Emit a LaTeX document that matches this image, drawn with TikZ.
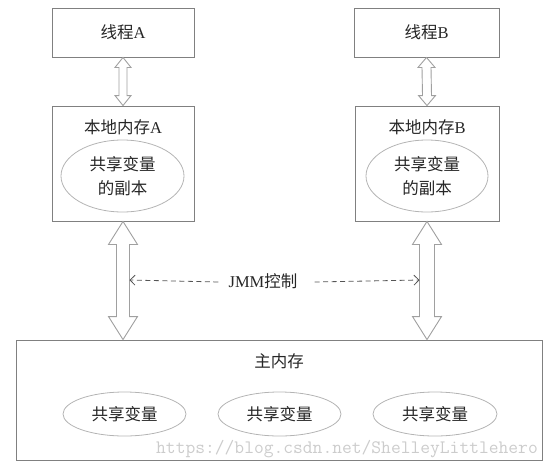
\documentclass[tikz,border=0pt]{standalone}
\usepackage{fontspec}
\setmainfont{Liberation Serif}
\newfontfamily\cjk{Noto Sans CJK SC}
\usetikzlibrary{shapes.geometric,arrows.meta,calc}
\definecolor{boxc}{HTML}{808080}
\definecolor{ellc}{HTML}{B4B4B4}
\definecolor{arrc}{HTML}{A0A0A0}
\definecolor{txtc}{HTML}{262626}
\definecolor{dashc}{HTML}{555555}
\definecolor{wmc}{HTML}{CCCCCC}
\newcommand{\dblarrow}[5]{%
  \draw[blockarrow] (#1) -- ($(#1)+(#3,#5)$) -- ($(#1)+(#4,#5)$) -- ($(#2)+(#4,-#5)$) -- ($(#2)+(#3,-#5)$) -- (#2)
    -- ($(#2)+(-#3,-#5)$) -- ($(#2)+(-#4,-#5)$) -- ($(#1)+(-#4,#5)$) -- ($(#1)+(-#3,#5)$) -- cycle;}
\begin{document}
\begin{tikzpicture}[x=1pt,y=-1pt,
  every node/.style={text=txtc,font=\fontsize{16.5}{24}\selectfont},
  boxnode/.style={draw=boxc,line width=0.9pt,rectangle,inner sep=0pt},
  ellnode/.style={draw=ellc,line width=0.8pt,ellipse,inner sep=0pt,align=center},
  blockarrow/.style={draw=arrc,line width=0.9pt,fill=white,line join=miter},
  jmmarrow/.style={draw=dashc,line width=0.8pt,dash pattern=on 5pt off 3.5pt,-{Straight Barb[length=5pt,width=10pt]}}]
\useasboundingbox (0,0) rectangle (549,469);
% thread boxes
\node[boxnode,minimum width=142pt,minimum height=49pt] (thA) at (123,32.5) {{\cjk 线程}A};
\node[boxnode,minimum width=145pt,minimum height=49pt] (thB) at (426.5,32.5) {{\cjk 线程}B};
% local memories
\node[boxnode,minimum width=142pt,minimum height=115pt] (locA) at (123,163.5) {};
\node (labA) at (123,127) {{\cjk 本地内存}A};
\node[ellnode,minimum width=123pt,minimum height=72pt] (ellA) at (122.5,176) {{\cjk 共享变量}\\{\cjk 的副本}};
\node[boxnode,minimum width=144pt,minimum height=115pt] (locB) at (427,163.5) {};
\node (labB) at (427,127) {{\cjk 本地内存}B};
\node[ellnode,minimum width=122pt,minimum height=72pt] (ellB) at (427,176) {{\cjk 共享变量}\\{\cjk 的副本}};
% main memory
\node[boxnode,minimum width=526pt,minimum height=120pt] (main) at (279,400) {};
\node (labM) at (279,361) {{\cjk 主内存}};
\node[ellnode,minimum width=123pt,minimum height=44pt] (e1) at (124.5,414) {{\cjk 共享变量}};
\node[ellnode,minimum width=123pt,minimum height=44pt] (e2) at (279.5,414) {{\cjk 共享变量}};
\node[ellnode,minimum width=124pt,minimum height=44pt] (e3) at (435,414) {{\cjk 共享变量}};
% watermark
\node[text=wmc,font=\fontsize{19}{20}\ttfamily,anchor=east,inner sep=0pt] (wm) at (538,449) {https://blog.csdn.net/ShelleyLittlehero};
% small arrows
\dblarrow{thA.south}{locA.north}{8}{4}{10}
\dblarrow{thB.south}{locB.north}{8.5}{4.5}{10}
% big arrows
\coordinate (mA) at (locA.south |- main.north);
\coordinate (mB) at (locB.south |- main.north);
\dblarrow{locA.south}{mA}{14.5}{6.5}{23}
\dblarrow{locB.south}{mB}{14.5}{7.5}{23}
% JMM control
\node[inner sep=0pt] (jmm) at (263,281) {JMM{\cjk 控制}};
\coordinate (jA) at (129.5,280);
\coordinate (jB) at (419.5,280);
\draw[jmmarrow] ([xshift=-10pt,yshift=-1pt]jmm.west) -- (jA);
\draw[jmmarrow] ([xshift=17pt,yshift=-1pt]jmm.east) -- (jB);
\end{tikzpicture}
\end{document}
